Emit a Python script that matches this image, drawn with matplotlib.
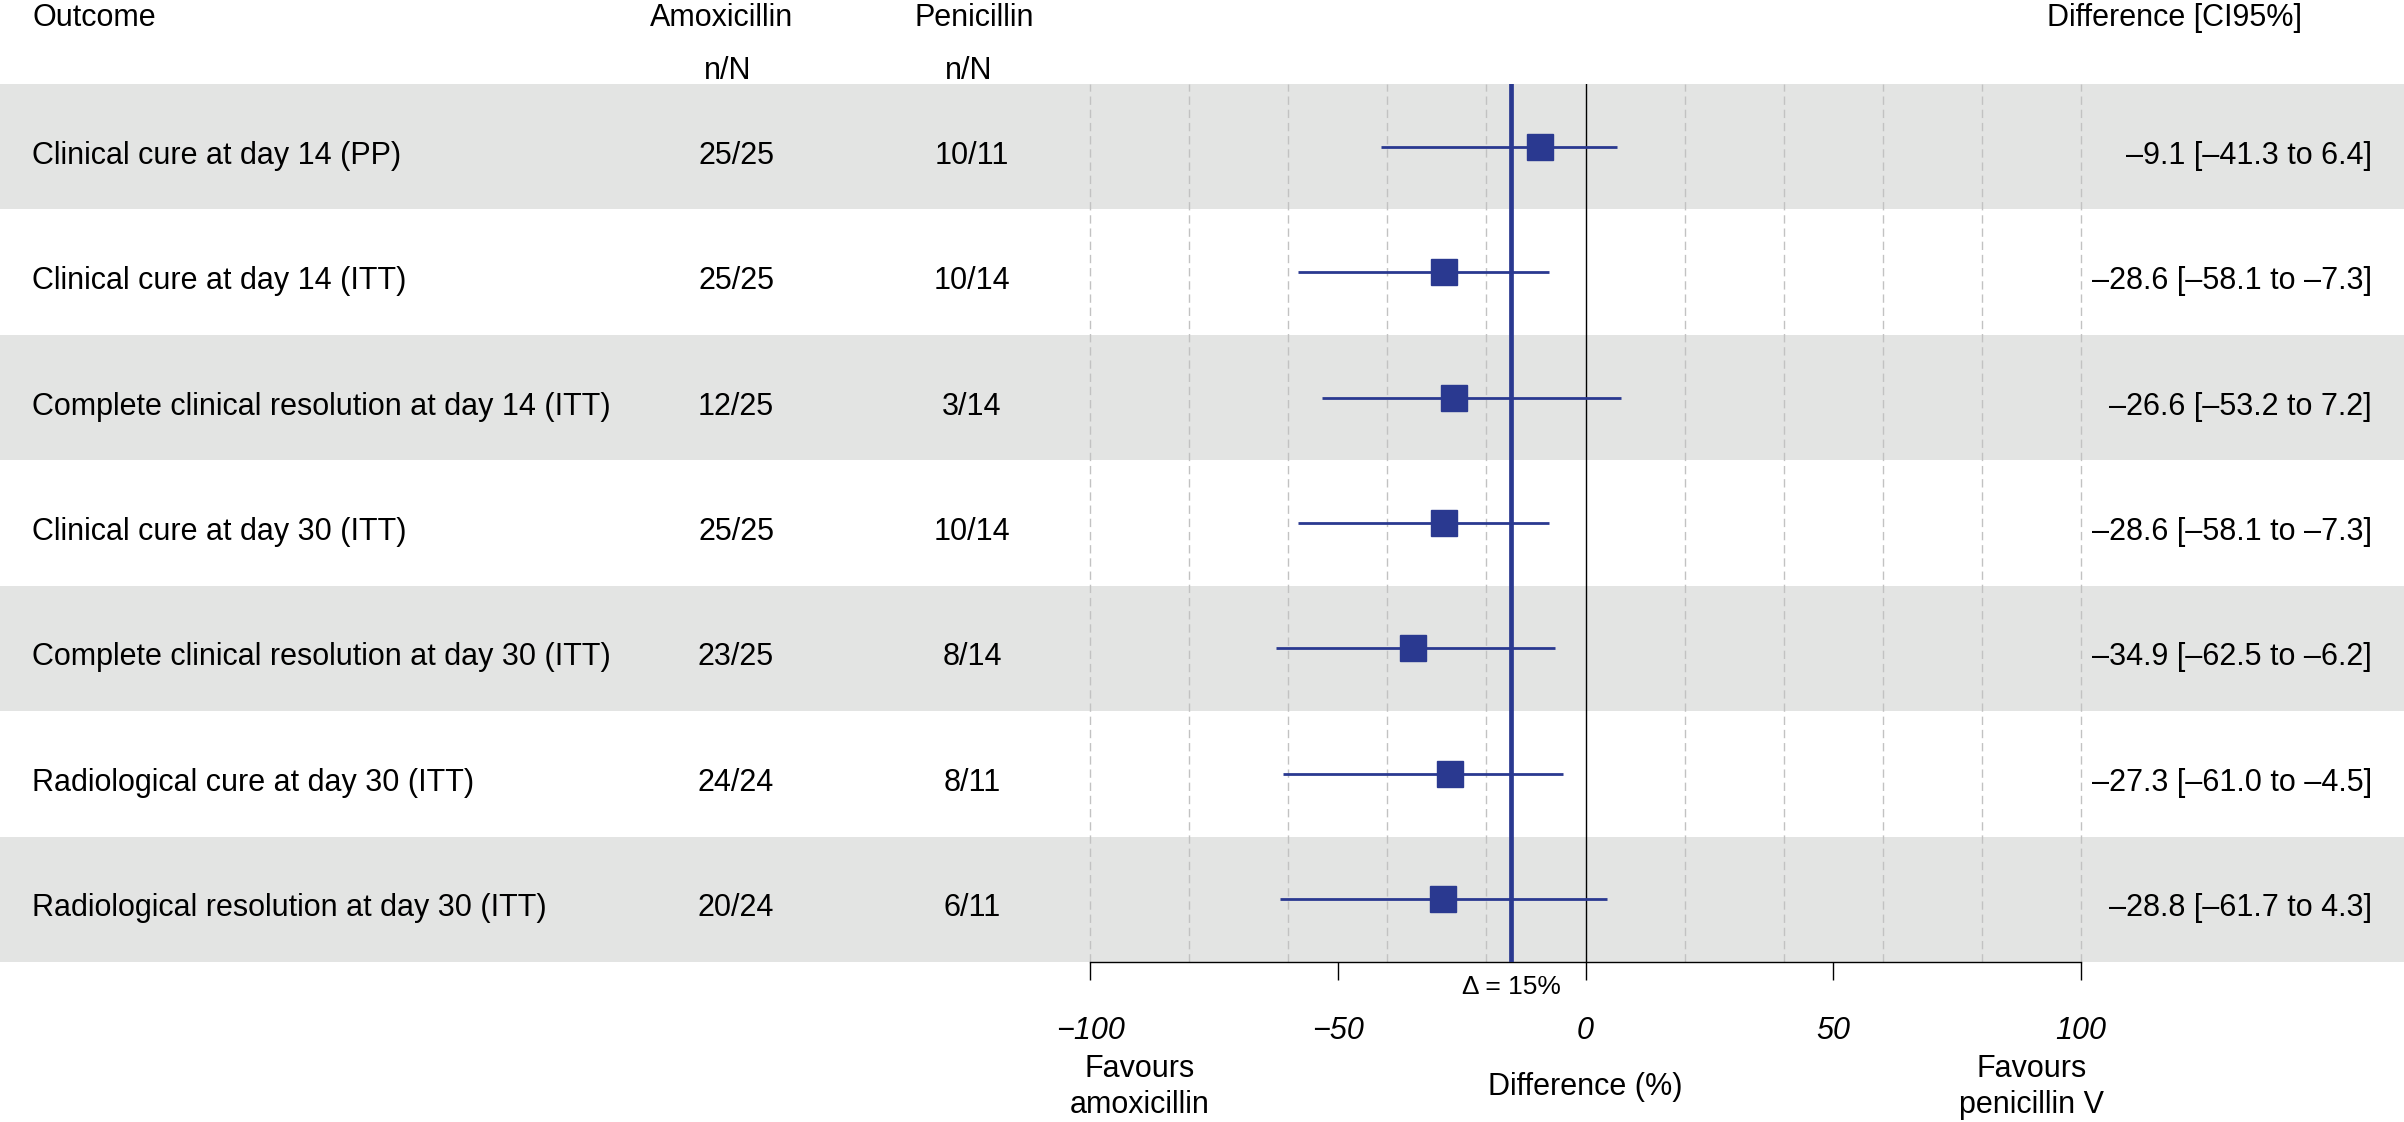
import matplotlib
matplotlib.use('Agg')
import matplotlib.pyplot as plt
from matplotlib import transforms as mtransforms

# ---------------- data ----------------
outcomes = [
    "Clinical cure at day 14 (PP)",
    "Clinical cure at day 14 (ITT)",
    "Complete clinical resolution at day 14 (ITT)",
    "Clinical cure at day 30 (ITT)",
    "Complete clinical resolution at day 30 (ITT)",
    "Radiological cure at day 30 (ITT)",
    "Radiological resolution at day 30 (ITT)",
]
amox_n = [25, 25, 12, 25, 23, 24, 20]
amox_N = [25, 25, 25, 25, 25, 24, 24]
pen_n = [10, 10, 3, 10, 8, 8, 6]
pen_N = [11, 14, 14, 14, 14, 11, 11]
diff = [-9.1, -28.6, -26.6, -28.6, -34.9, -27.3, -28.8]
ci_low = [-41.3, -58.1, -53.2, -58.1, -62.5, -61.0, -61.7]
ci_high = [6.4, -7.3, 7.2, -7.3, -6.2, -4.5, 4.3]
x_ticks = [-100, -50, 0, 50, 100]
grid_x = [-100, -80, -60, -40, -20, 20, 40, 60, 80, 100]
margin = -15

# ---------------- style ----------------
BLUE = '#2a3990'
BAND = '#e3e4e3'
GRID = '#c2c2c2'
FS = 22

plt.rcParams['font.family'] = ['Liberation Sans', 'DejaVu Sans']

W, H = 2404, 1122
fig = plt.figure(figsize=(W / 100, H / 100), dpi=100)

top_px, bot_px = 84, 962
ax = fig.add_axes([0, 1 - bot_px / H, 1, (bot_px - top_px) / H])
px_per_unit = (2081 - 1090) / 200.0
xmin = -100 - 1090 / px_per_unit
xmax = xmin + W / px_per_unit
ax.set_xlim(xmin, xmax)
n = len(outcomes)
ax.set_ylim(n + 0.5, 0.5)
rows = list(range(1, n + 1))

for i, r in enumerate(rows):
    if i % 2 == 0:
        ax.axhspan(r - 0.5, r + 0.5, color=BAND, lw=0, zorder=0)

for g in grid_x:
    ax.axvline(g, color=GRID, lw=1.0, ls=(0, (6, 3.5)), zorder=1)
ax.axvline(0, color='black', lw=1.0, zorder=2)
ax.axvline(margin, color=BLUE, lw=3.4, zorder=3)

ax.hlines(rows, ci_low, ci_high, color=BLUE, lw=2.0, zorder=4)
ax.plot(diff, rows, ls='none', marker='s', ms=18.7, color=BLUE,
        mec=BLUE, zorder=5)

for s in ['top', 'left', 'right']:
    ax.spines[s].set_visible(False)
ax.spines['bottom'].set_bounds(-100, 100)
ax.spines['bottom'].set_linewidth(1.0)
ax.set_yticks([])
ax.set_xticks(x_ticks)
ax.set_xticklabels([str(t).replace('-', '\u2212') for t in x_ticks],
                   fontsize=FS, style='italic')
ax.tick_params(axis='x', length=13, width=1.0, pad=26)

# text in rows: slightly below band centre
txt_tr = mtransforms.offset_copy(ax.transData, fig=fig, y=-9, units='dots')
row_tr = mtransforms.blended_transform_factory(fig.transFigure, txt_tr)

for i, r in enumerate(rows):
    ax.text(32 / W, r, outcomes[i], transform=row_tr, ha='left', va='center', fontsize=FS)
    ax.text(736 / W, r, f"{amox_n[i]}/{amox_N[i]}", transform=row_tr, ha='center', va='center', fontsize=FS)
    ax.text(972 / W, r, f"{pen_n[i]}/{pen_N[i]}", transform=row_tr, ha='center', va='center', fontsize=FS)
    lab = f"{diff[i]:.1f} [{ci_low[i]:.1f} to {ci_high[i]:.1f}]".replace('-', '\u2013')
    ax.text(2372 / W, r, lab, transform=row_tr, ha='right', va='center', fontsize=FS)

# header
def fy(px):
    return 1 - px / H

fig.text(32 / W, fy(18), "Outcome", ha='left', va='center', fontsize=FS)
fig.text(722 / W, fy(18), "Amoxicillin", ha='center', va='center', fontsize=FS)
fig.text(974 / W, fy(18), "Penicillin", ha='center', va='center', fontsize=FS)
fig.text(728 / W, fy(71), "n/N", ha='center', va='center', fontsize=FS)
fig.text(969 / W, fy(71), "n/N", ha='center', va='center', fontsize=FS)
fig.text(2302 / W, fy(18), "Difference [CI95%]", ha='right', va='center', fontsize=FS)

# bottom annotations
btr = mtransforms.blended_transform_factory(ax.transData, fig.transFigure)
ax.text(margin, fy(987), "\u0394 = 15%", transform=btr, ha='center', va='center', fontsize=19)
ax.text(-90, fy(1087), "Favours\namoxicillin", transform=btr, ha='center', va='center',
        fontsize=FS, linespacing=1.3)
ax.text(0, fy(1087), "Difference (%)", transform=btr, ha='center', va='center', fontsize=FS)
ax.text(90, fy(1087), "Favours\npenicillin V", transform=btr, ha='center', va='center',
        fontsize=FS, linespacing=1.3)

fig.savefig('out.png', dpi=100)
